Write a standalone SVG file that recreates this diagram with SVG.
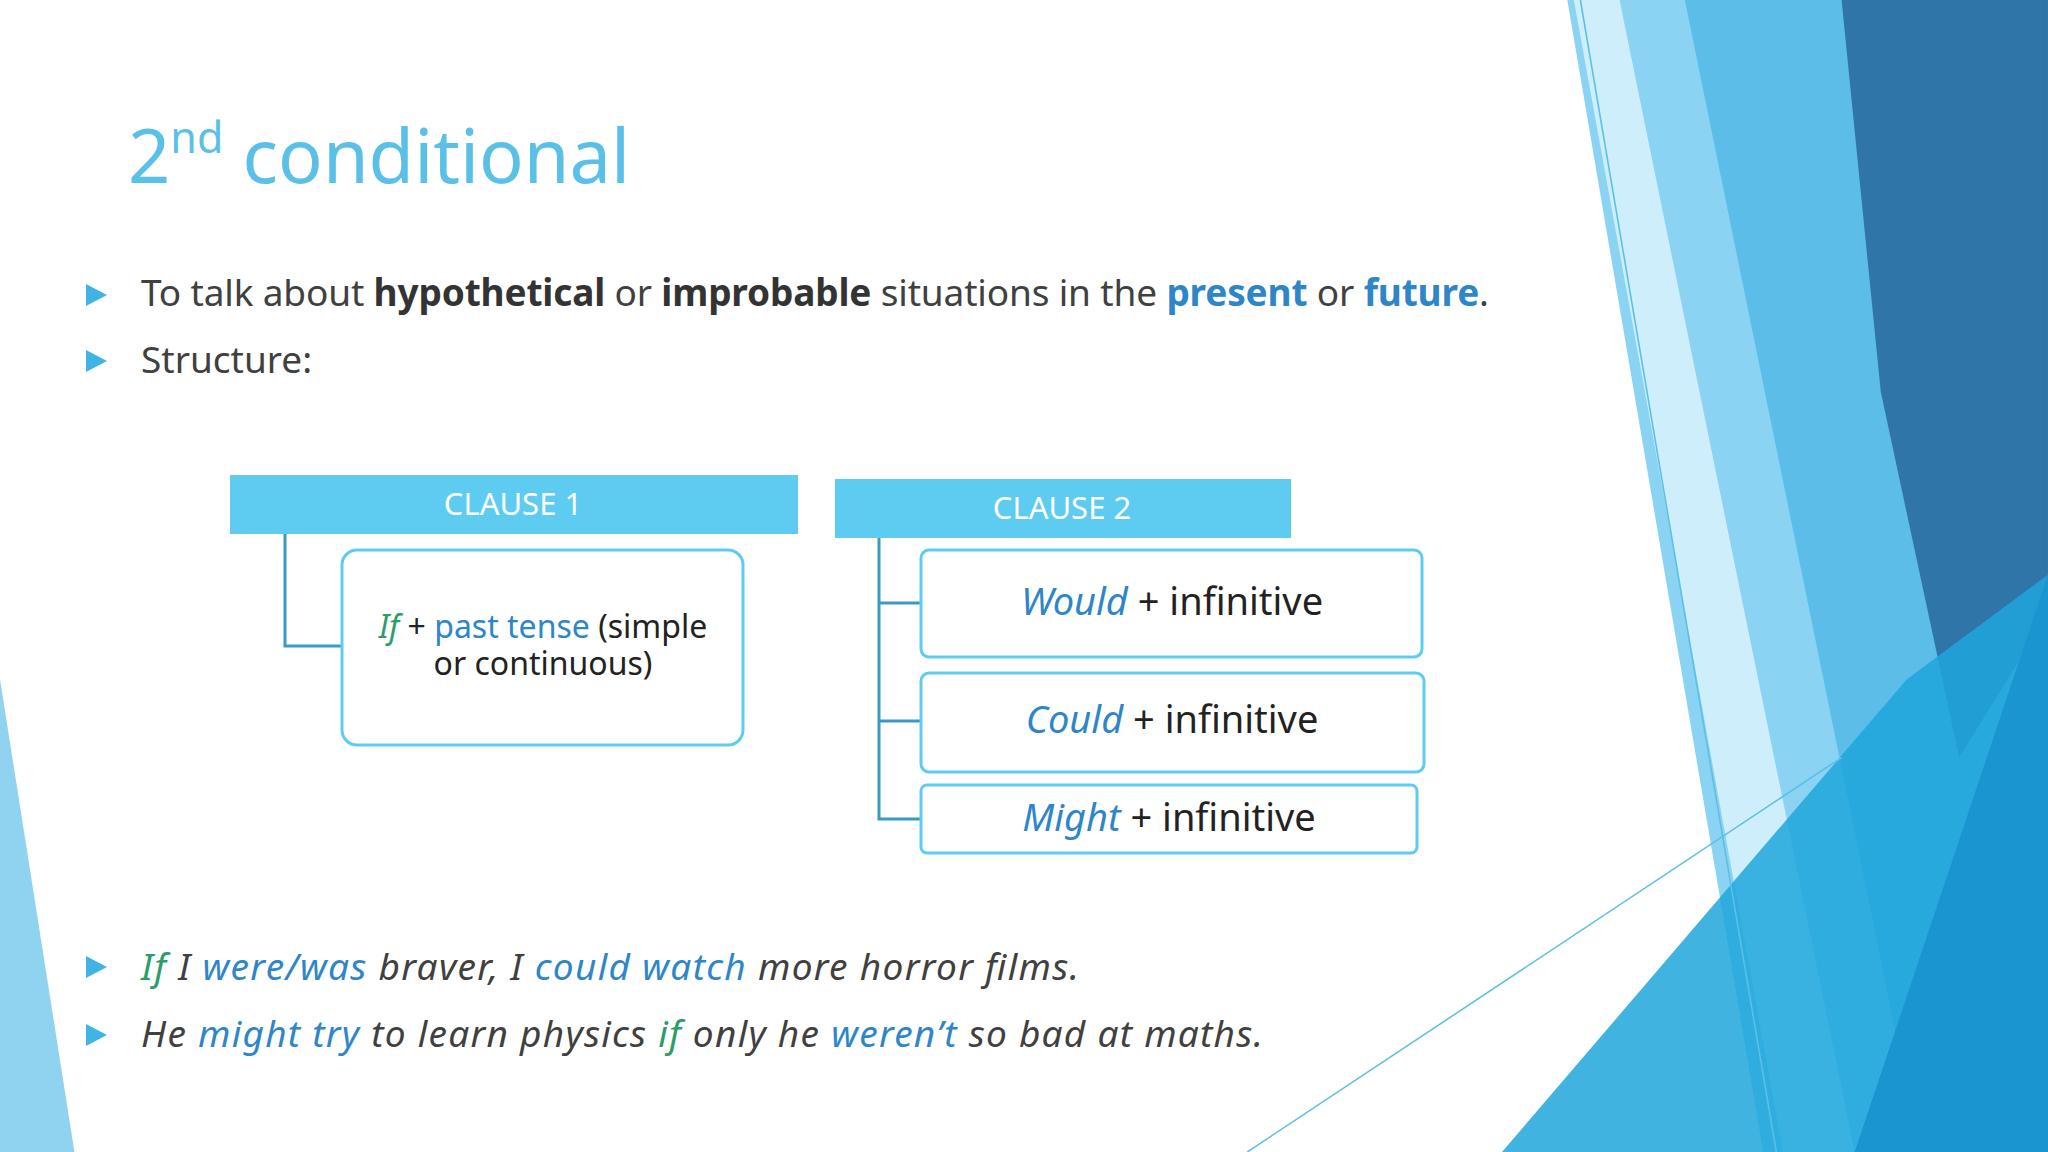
<svg xmlns="http://www.w3.org/2000/svg" width="2048" height="1152" viewBox="0 0 2048 1152">
<style>
.t{font-family:"Noto Sans","Liberation Sans",sans-serif;fill:#404040}
.b{font-weight:bold;fill:#333}
.bl{fill:#2e86c8}
.gr{fill:#2a9d6a}
.hd{fill:#5ecbf0}
.hdt{font-family:"Noto Sans","Liberation Sans",sans-serif;font-size:31px;fill:#fff;text-anchor:middle}
.box{fill:#fff;stroke:#5ecbf0;stroke-width:3}
.con{fill:none;stroke:#3a9ac4;stroke-width:3}
.bt{font-family:"Noto Sans","Liberation Sans",sans-serif;font-size:38px;fill:#222;text-anchor:middle}
.sm{font-size:32px}
</style>
<rect width="2048" height="1152" fill="#fff"/>
<g transform="scale(1.3061)">
<polygon points="1200,0 1568,0 1568,882 1350,882" fill="#8ad3f2"/>
<polygon points="1205,0 1240,0 1420,882 1365,882" fill="#cdeefa"/>
<polygon points="1290,0 1568,0 1568,882 1470,882" fill="#5bbde8"/>
<polygon points="1410,0 1568,0 1568,470 1500,580 1440,300" fill="#2f75a8"/>
<polygon points="1150,882 1460,520 1568,440 1568,882" fill="#1fa6dc" opacity="0.85"/>
<polygon points="1420,882 1568,440 1568,882" fill="#1b95cf"/>
<polygon points="0,520 0,882 57,882" fill="#8fd3f0"/>
<line x1="1210" y1="0" x2="1360" y2="882" stroke="#5bc0e8" stroke-width="1.2"/>
<line x1="955" y1="882" x2="1410" y2="580" stroke="#5bc0e8" stroke-width="1.2"/>
</g>
<g id="title"><text x="128" y="183" font-family="Noto Sans,Liberation Sans,sans-serif" font-size="74" fill="#5bc0e8">2<tspan font-size="43" dy="-30">nd</tspan><tspan dy="30"> conditional</tspan></text></g>
<g id="bullets" fill="#3fb4e5">
<polygon points="86,284 86,306 107,295"/>
<polygon points="86,350 86,372 107,361"/>
<polygon points="86,956 86,978 107,967"/>
<polygon points="86,1024 86,1046 107,1035"/>
</g>
<g id="text">
<text class="t" x="141" y="306" font-size="37" textLength="1348" lengthAdjust="spacing">To talk about <tspan class="b">hypothetical</tspan> or <tspan class="b">improbable</tspan> situations in the <tspan class="b" style="fill:#2e86c8">present</tspan> or <tspan class="b" style="fill:#2e86c8">future</tspan>.</text>
<text class="t" x="141" y="373" font-size="37">Structure:</text>
<text class="t" x="141" y="980" font-size="37" font-style="italic" textLength="938" lengthAdjust="spacing"><tspan class="gr">If</tspan> I <tspan class="bl">were/was</tspan> braver, I <tspan class="bl">could watch</tspan> more horror films.</text>
<text class="t" x="141" y="1047" font-size="37" font-style="italic" textLength="1122" lengthAdjust="spacing">He <tspan class="bl">might try</tspan> to learn physics <tspan class="gr">if</tspan> only he <tspan class="bl">weren’t</tspan> so bad at maths.</text>
</g>
<g id="connectors">
<polyline class="con" points="285,534 285,646 342,646"/>
<polyline class="con" points="879,538 879,819 921,819"/>
<line class="con" x1="879" y1="603" x2="921" y2="603"/>
<line class="con" x1="879" y1="721" x2="921" y2="721"/>
</g>
<g id="clause1"><rect class="hd" x="230" y="475" width="568" height="59"/><text class="hdt" x="513" y="515">CLAUSE 1</text></g>
<g id="clause2"><rect class="hd" x="835" y="479" width="456" height="59"/><text class="hdt" x="1062" y="519">CLAUSE 2</text></g>
<g id="if"><rect class="box" x="342" y="550" width="401" height="195" rx="15"/>
<text class="bt sm" x="543" y="638"><tspan class="gr" font-style="italic">If</tspan> + <tspan class="bl">past tense</tspan> (simple</text>
<text class="bt sm" x="543" y="675">or continuous)</text></g>
<g id="would"><rect class="box" x="921" y="550" width="501" height="107" rx="8"/><text class="bt" x="1172" y="615"><tspan class="bl" font-style="italic">Would</tspan> + infinitive</text></g>
<g id="could"><rect class="box" x="921" y="673" width="503" height="99" rx="8"/><text class="bt" x="1172" y="733"><tspan class="bl" font-style="italic">Could</tspan> + infinitive</text></g>
<g id="might"><rect class="box" x="921" y="785" width="496" height="68" rx="6"/><text class="bt" x="1169" y="831"><tspan class="bl" font-style="italic">Might</tspan> + infinitive</text></g>
</svg>
